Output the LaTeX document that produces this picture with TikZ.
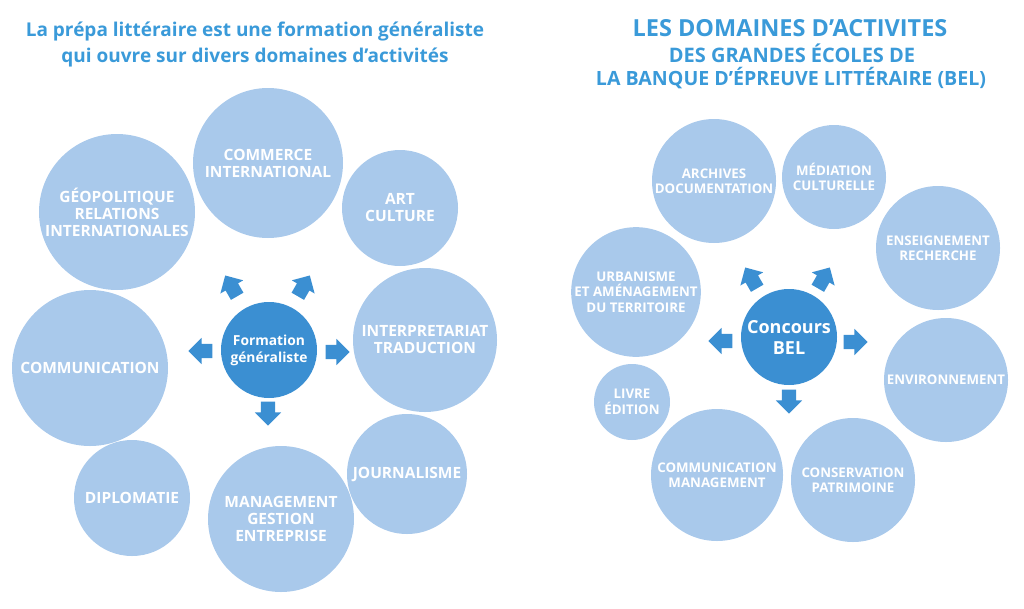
\documentclass[tikz,border=0pt]{standalone}
\usepackage{fontspec}
\setmainfont{Open Sans}
\usetikzlibrary{shapes.arrows}
\definecolor{lb}{HTML}{A9C9EB}
\definecolor{db}{HTML}{3B8FD2}
\definecolor{tb}{HTML}{3A9AD9}
\tikzset{
  bub/.style={circle,fill=lb,text=white,font=\bfseries\fontsize{15.5}{17}\selectfont,align=center,inner sep=0pt,minimum size=#1},
  rbub/.style={bub=#1,font=\bfseries\fontsize{13.3}{15.5}\selectfont},
  hub/.style={circle,fill=db,text=white,align=center,inner sep=0pt,minimum size=96pt},
  arr/.style={single arrow,fill=db,draw=none,minimum height=24pt,inner sep=7pt,single arrow head extend=6pt,single arrow head indent=0pt,rotate=#1},
  ttl/.style={text=tb,font=\bfseries\fontsize{19}{26}\selectfont,align=center}
}
\begin{document}
\begin{tikzpicture}[x=1pt,y=-1pt]
\useasboundingbox (0,0) rectangle (1024,608);
\node[ttl] (t1) at (255,45) {La prépa littéraire est une formation généraliste\\qui ouvre sur divers domaines d’activités};
\node[ttl,font=\bfseries\fontsize{23.5}{26}\selectfont] (t2) at (790,28) {LES DOMAINES D’ACTIVITES};
\node[ttl,font=\bfseries\fontsize{20}{24}\selectfont] (t3) at (792,53) {DES GRANDES ÉCOLES DE};
\node[ttl,font=\bfseries\fontsize{19.6}{24}\selectfont] (t4) at (791,78) {LA BANQUE D’ÉPREUVE LITTÉRAIRE (BEL)};
% left
\node[bub=150pt] (c1) at (268,163) {COMMERCE\\INTERNATIONAL};
\node[bub=116pt] (c2) at (400,208) {ART\\CULTURE};
\node[bub=156pt] (c3) at (117,212) {GÉOPOLITIQUE\\RELATIONS\\INTERNATIONALES};
\node[bub=144pt] (c4) at (425,340) {INTERPRETARIAT\\TRADUCTION};
\node[bub=156pt] (c5) at (90,368) {COMMUNICATION};
\node[bub=120pt] (c6) at (407,474) {JOURNALISME};
\node[bub=116pt] (c7) at (132,498) {DIPLOMATIE};
\node[bub=146pt] (c8) at (281,519) {MANAGEMENT\\GESTION\\ENTREPRISE};
\node[hub,font=\bfseries\fontsize{13.8}{17}\selectfont] (h1) at (269,350) {Formation\\généraliste};
\node[arr=120] (a1) at (233,289) {};
\node[arr=60] (a2) at (302,289) {};
\node[arr=180] (a3) at (204,351) {};
\node[arr=0] (a4) at (334,352) {};
\node[arr=-90] (a5) at (268,410) {};
% right
\node[rbub=124pt] (d1) at (714,181) {ARCHIVES\\DOCUMENTATION};
\node[rbub=104pt] (d2) at (834,177) {MÉDIATION\\CULTURELLE};
\node[rbub=124pt] (d3) at (938,248) {ENSEIGNEMENT\\RECHERCHE};
\node[rbub=128pt] (d4) at (636,292) {URBANISME\\ET AMÉNAGEMENT\\DU TERRITOIRE};
\node[rbub=124pt] (d5) at (946,380) {ENVIRONNEMENT};
\node[rbub=76pt] (d6) at (632,402) {LIVRE\\ÉDITION};
\node[rbub=132pt] (d7) at (717,475) {COMMUNICATION\\MANAGEMENT};
\node[rbub=124pt] (d8) at (853,480) {CONSERVATION\\PATRIMOINE};
\node[hub,font=\bfseries\fontsize{18}{21}\selectfont] (h2) at (789,337) {Concours\\BEL};
\node[arr=120] (b1) at (753,281) {};
\node[arr=60] (b2) at (822,281) {};
\node[arr=180] (b3) at (724,341) {};
\node[arr=0] (b4) at (852,342) {};
\node[arr=-90] (b5) at (789,398) {};
\end{tikzpicture}
\end{document}
